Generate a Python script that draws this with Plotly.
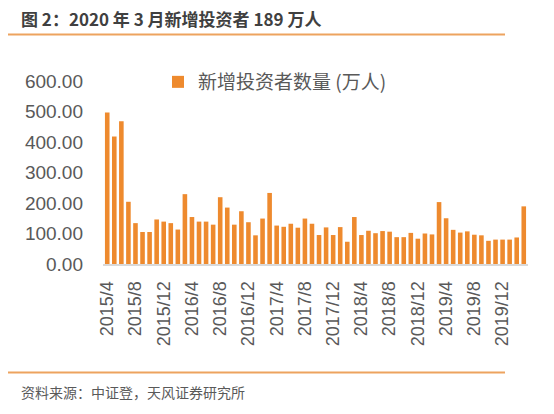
import plotly.graph_objects as go

months = []
y, m = 2015, 4
for _ in range(60):
    months.append(f"{y}/{m}")
    m += 1
    if m > 12:
        m = 1
        y += 1

values = [497, 418, 468, 204, 134, 105, 105, 146, 139, 134, 113, 229,
          154, 139, 139, 129, 219, 185, 129, 173, 137, 94, 149, 233,
          126, 122, 132, 119, 149, 132, 95, 120, 95, 121, 73, 154,
          95, 109, 101, 108, 106, 88, 88, 102, 83, 100, 97, 203,
          150, 112, 103, 107, 96, 94, 76, 80, 80, 80, 87, 189]

tick_labels = months[::4]
series_name = "新增投资者数量 (万人)"
title_text = "图 2：2020 年 3 月新增投资者 189 万人"
source_text = "资料来源：中证登，天风证券研究所"

W, H = 554, 414
L, R, T, B = 103, 26, 81, 150
pw, ph = W - L - R, H - T - B

def px(x):
    return (x - L) / pw

def py(y):
    return (H - B - y) / ph

fig = go.Figure()
fig.add_trace(go.Bar(x=months, y=values, name=series_name,
                     marker=dict(color="#EE8A2E", line=dict(width=0)),
                     showlegend=True))

fig.update_layout(
    width=W, height=H,
    margin=dict(l=L, r=R, t=T, b=B),
    paper_bgcolor="white", plot_bgcolor="white",
    bargap=0.35,
    font=dict(family="Liberation Sans, Arial, Noto Sans CJK SC", color="#595959"),
    legend=dict(x=px(158), y=py(82), xanchor="left", yanchor="middle",
                orientation="h", itemwidth=30,
                font=dict(size=19, color="#595959",
                          family="Noto Sans CJK SC, Liberation Sans"),
                bgcolor="rgba(0,0,0,0)"),
    xaxis=dict(type="category", tickmode="array", tickvals=tick_labels,
               ticktext=tick_labels, tickangle=-90, showgrid=False,
               showline=True, linecolor="#D9D9D9", linewidth=2,
               ticks="", ticklabelstandoff=8,
               tickfont=dict(size=18, color="#595959"),
               range=[-0.6, 59.6]),
    yaxis=dict(range=[0, 600], dtick=100, tickformat=".2f", showgrid=False,
               showline=False, zeroline=False, ticks="",
               ticklabelstandoff=19,
               tickfont=dict(size=19, color="#595959")),
)

fig.add_annotation(text="<b>" + title_text + "</b>", xref="paper", yref="paper",
                   x=px(19), y=py(18), xanchor="left", yanchor="middle",
                   showarrow=False,
                   font=dict(size=17, color="#404040",
                             family="Noto Sans CJK SC, Liberation Sans"))
fig.add_annotation(text=source_text, xref="paper", yref="paper",
                   x=px(19), y=py(392), xanchor="left", yanchor="middle",
                   showarrow=False,
                   font=dict(size=14, color="#595959",
                             family="Noto Sans CJK SC"))
for yy in (34.5, 372.5):
    fig.add_shape(type="line", xref="paper", yref="paper",
                  x0=px(8), x1=px(505), y0=py(yy), y1=py(yy),
                  line=dict(color="#EDA35F", width=2))

fig.write_html("out.html")
